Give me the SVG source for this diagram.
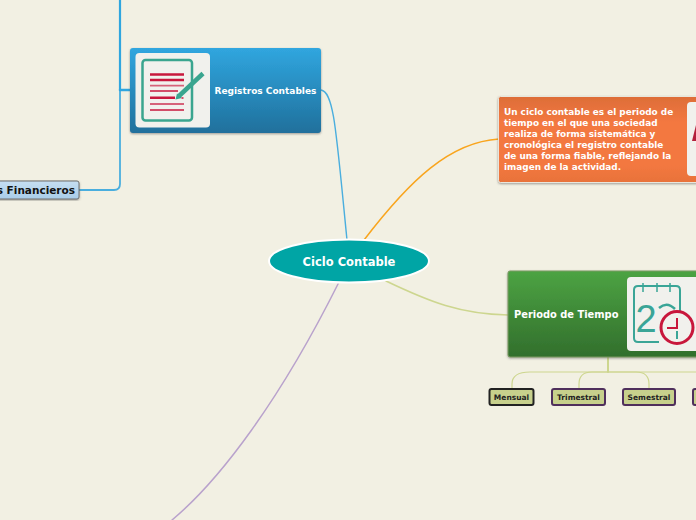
<svg xmlns="http://www.w3.org/2000/svg" width="696" height="520" viewBox="0 0 696 520">
<defs>
<linearGradient id="gb" x1="0" y1="0" x2="0" y2="1"><stop offset="0" stop-color="#30a6df"/><stop offset="1" stop-color="#20709c"/></linearGradient>
<linearGradient id="go" x1="0" y1="0" x2="0" y2="1"><stop offset="0" stop-color="#dd6d38"/><stop offset="0.3" stop-color="#f37840"/><stop offset="0.8" stop-color="#f37840"/><stop offset="1" stop-color="#e87239"/></linearGradient>
<linearGradient id="gg" x1="0" y1="0" x2="0" y2="1"><stop offset="0" stop-color="#4ca343"/><stop offset="1" stop-color="#326f2c"/></linearGradient>
<linearGradient id="gf" x1="0" y1="0" x2="0" y2="1"><stop offset="0" stop-color="#c6def2"/><stop offset="1" stop-color="#a9cde9"/></linearGradient>
<filter id="sh" x="-5%" y="-5%" width="110%" height="115%"><feDropShadow dx="0" dy="1" stdDeviation="0.8" flood-color="#555" flood-opacity="0.55"/></filter>
</defs>
<style>
text{font-family:"DejaVu Sans",sans-serif;font-weight:700}
.w{fill:#fff}
.c{fill:none;stroke-linecap:round}
.sub{fill:#c7d08c;stroke:#4f2f5c;stroke-width:2}
.subt{font-size:7.5px;fill:#222;text-anchor:middle}
.card{fill:#f1f1ed}
.t{fill:none;stroke:#3aa58f}
.k{fill:none;stroke:#3aa597}
.r{stroke:#c8173c;fill:none}
</style>
<rect width="696" height="520" fill="#f2f0e3"/>
<g id="connectors">
<path class="c" d="M120 90V184Q120 190 114 190H79" stroke="#4aaede" stroke-width="1.800"/>
<path class="c" d="M120 90H130" stroke="#30a6df" stroke-width="2.500"/>
<path class="c" d="M120 0V90" stroke="#30a6df" stroke-width="2.200"/>
<path class="c" d="M321 90C334 92 336 130 347 240" stroke="#4aaede" stroke-width="1.400"/>
<path class="c" d="M364 240C410 180 450 142 499 139" stroke="#f9a51e" stroke-width="1.500"/>
<path class="c" d="M386 281C430 302 460 314 508 315" stroke="#cdd68f" stroke-width="1.600"/>
<path class="c" d="M338 284C280 400 220 480 172 520" stroke="#b9a2cc" stroke-width="1.500"/>
<path class="c" d="M608 357V372" stroke="#cdd68f" stroke-width="2"/>
<path class="c" d="M512 388V384Q512 372 530 372H696" stroke="#cdd68f" stroke-width="1.200"/>
<path class="c" d="M579 388V384Q579 372 592 372H636Q649 372 649 384V388" stroke="#cdd68f" stroke-width="1.200"/>
</g>
<g id="node-estados">
<rect x="-60" y="181" width="139" height="18" rx="2" fill="url(#gf)" stroke="#6f6f6f" stroke-width="1" filter="url(#sh)"/>
<text x="75" y="194" font-size="10.500" fill="#111" text-anchor="end">os Financieros</text>
</g>
<g id="node-registros">
<rect x="130" y="48" width="191" height="85" rx="3" fill="url(#gb)" filter="url(#sh)"/>
<rect x="135.500" y="53" width="74.500" height="74.500" rx="4" class="card"/>
<rect x="142.500" y="60" width="49.500" height="60.500" rx="3" class="t" stroke-width="2.500"/>
<g stroke="#c8173c"><path d="M150 74.500H184M150 80H184M150 97.700H175" stroke-width="2.600"/><path d="M150 91H178M150 110H184" stroke-width="1.300"/><path d="M150 85.700H184M150 104H184" stroke-width="1.800" opacity="0.65"/></g>
<path d="M179 96L203 73.500" stroke="#3aa58f" stroke-width="4.500"/><path d="M175.500 99.500L177 93.500L182 98Z" fill="#3aa58f"/>
<rect x="181.500" y="97" width="2" height="2" fill="#d9506c"/>
<text x="214.500" y="94" font-size="9px" class="w">Registros Contables</text>
</g>
<g id="node-definicion">
<rect x="498.500" y="96.500" width="215" height="86" rx="2" fill="url(#go)" stroke="#e9e6dc" filter="url(#sh)"/>
<rect x="687" y="102" width="40" height="74" rx="4" class="card"/>
<path d="M692 141L696 125V141Z" fill="#b3203c"/>
<g font-size="8.900" class="w"><text x="504" y="115">Un ciclo contable es el periodo de</text><text x="504" y="126">tiempo en el que una sociedad</text><text x="504" y="137">realiza de forma sistemática y</text><text x="504" y="148">cronológica el registro contable</text><text x="504" y="159">de una forma fiable, reflejando la</text><text x="504" y="170">imagen de la actividad.</text></g>
</g>
<g id="node-periodo">
<rect x="508" y="271" width="200" height="86" rx="2" fill="url(#gg)" stroke="#7c9a62" filter="url(#sh)"/>
<rect x="627" y="277" width="80" height="74" rx="4" class="card"/>
<path d="M643 286H638Q634 286 634 290V338Q634 342 638 342H659M643 286H657M657 286H670M670 286H676Q680 286 680 290V312" class="k" stroke-width="2"/>
<path d="M643 283V292M657 283V292M670 283V292" class="k" stroke-width="1.500"/>
<text x="635.500" y="332" font-size="38" style="font-family:'Liberation Sans',sans-serif;font-weight:400" fill="#3aa597">2</text>
<path d="M659 308Q667 301 675 309" class="k" stroke-width="2.500"/>
<circle cx="677" cy="327.500" r="16" fill="#f1f1ed" stroke="#c8173c" stroke-width="3"/>
<path d="M677 318V328H667" class="r" stroke-width="2"/>
<path d="M677 331V339" stroke="#3aa597" stroke-width="2"/>
<text x="514" y="318" font-size="9.900" class="w">Periodo de Tiempo</text>
</g>
<g id="node-mensual"><rect x="489.500" y="389" width="44" height="16" rx="2" fill="#c7d08c" stroke="#222" stroke-width="2"/><text x="511.500" y="400" class="subt">Mensual</text></g>
<g id="node-trimestral"><rect x="552" y="389" width="53" height="16" rx="2" class="sub"/><text x="578.500" y="400" class="subt">Trimestral</text></g>
<g id="node-semestral"><rect x="623" y="389" width="52" height="16" rx="2" class="sub"/><text x="649" y="400" class="subt">Semestral</text></g>
<g id="node-anual"><rect x="693" y="389" width="40" height="16" rx="2" class="sub"/></g>
<g id="node-central">
<ellipse cx="349" cy="261" rx="80" ry="21.500" fill="#00a5a5" stroke="#fff" stroke-width="2"/>
<text x="349" y="266" font-size="11.500" class="w" text-anchor="middle">Ciclo Contable</text>
</g>
</svg>
